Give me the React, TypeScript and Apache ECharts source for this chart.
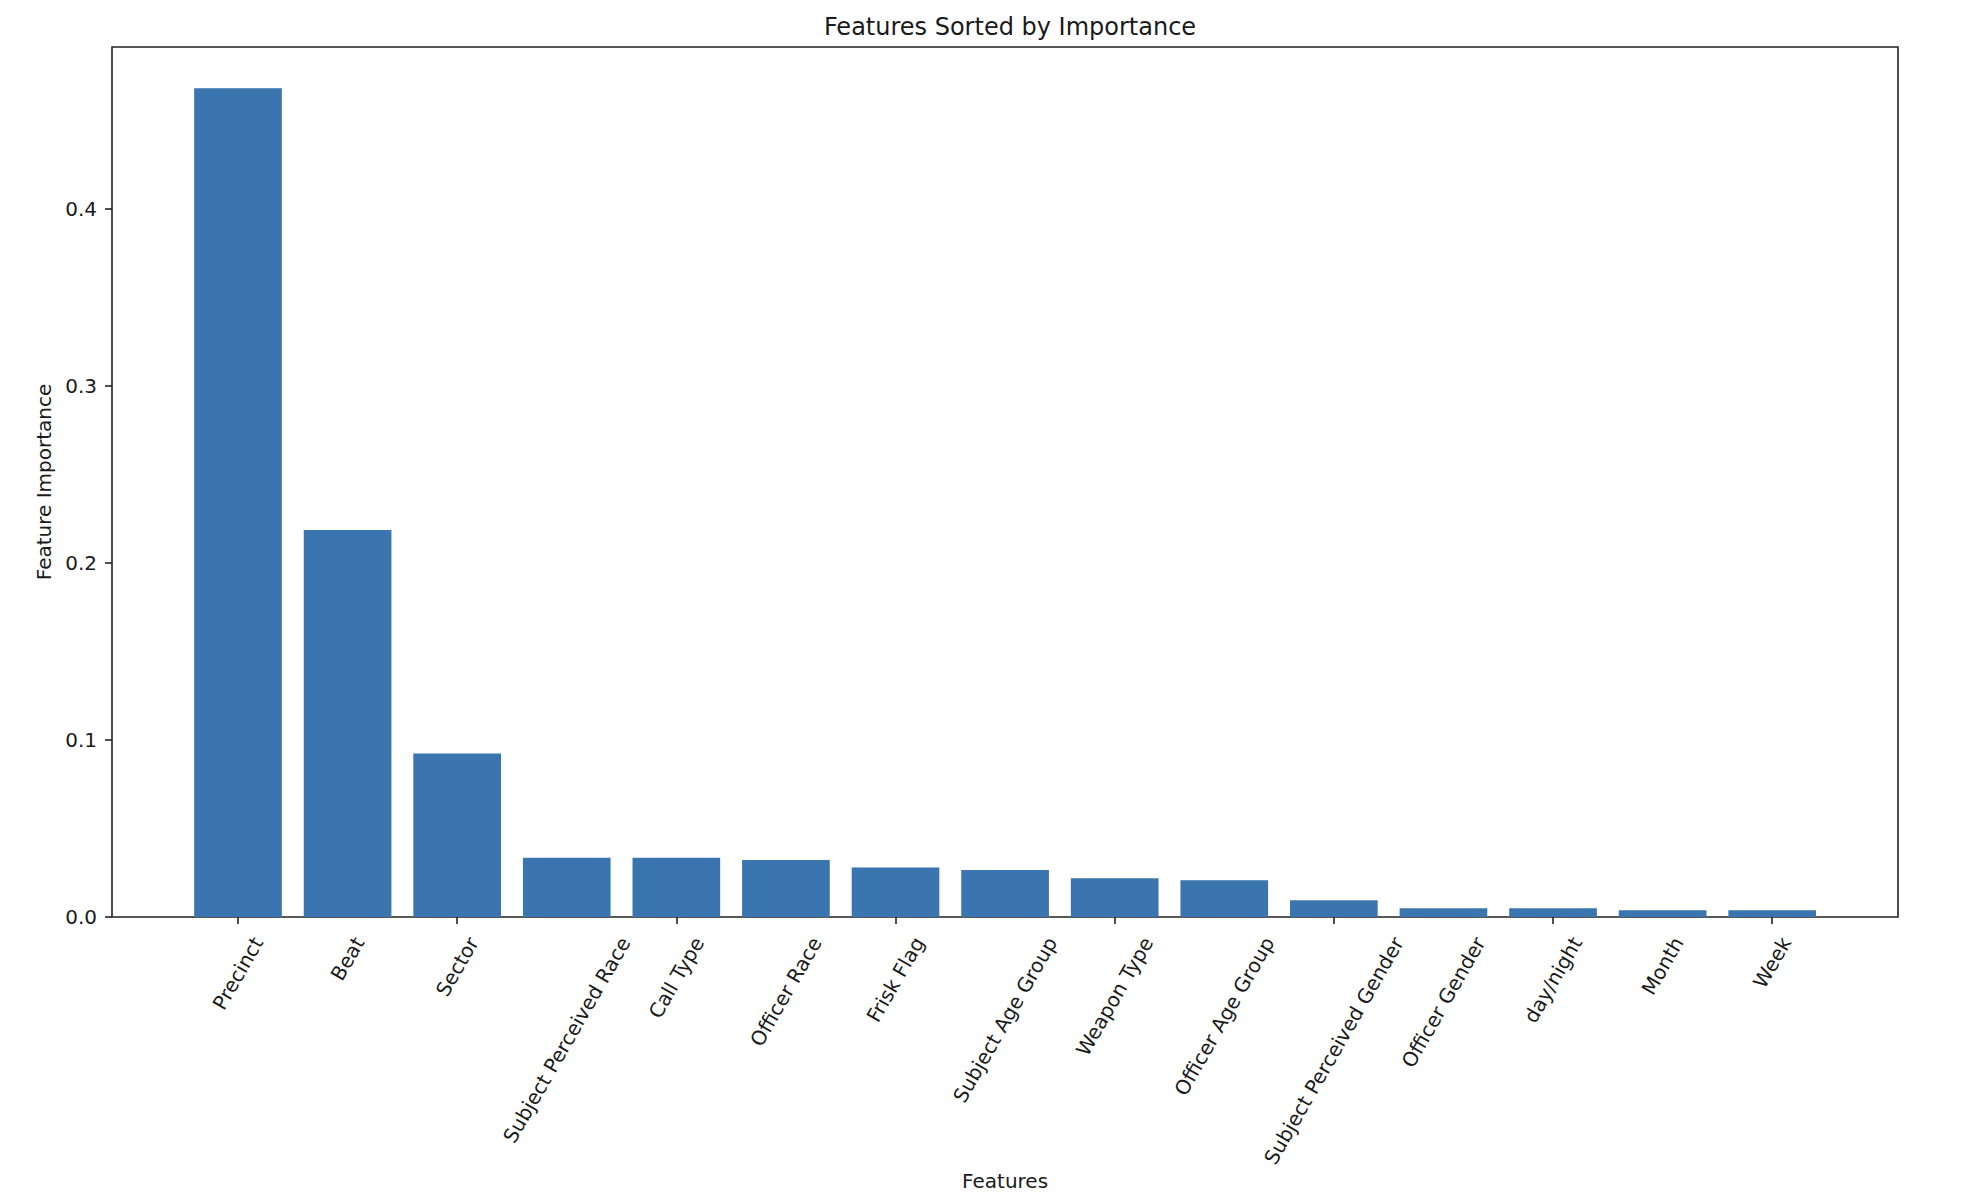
import { useEffect, useRef } from "react";
import * as echarts from "echarts";

// Feature importances, sorted descending
const FEATURES = [
  "Precinct",
  "Beat",
  "Sector",
  "Subject Perceived Race",
  "Call Type",
  "Officer Race",
  "Frisk Flag",
  "Subject Age Group",
  "Weapon Type",
  "Officer Age Group",
  "Subject Perceived Gender",
  "Officer Gender",
  "day/night",
  "Month",
  "Week",
];
const IMPORTANCE = [
  0.4682, 0.2186, 0.0924, 0.0335, 0.0335, 0.0322, 0.0279, 0.0266, 0.0219,
  0.0207, 0.0094, 0.0049, 0.0049, 0.0038, 0.0038,
];
const Y_TICKS = [0, 0.1, 0.2, 0.3, 0.4];
const Y_MAX = 0.4915;

const FONT = "'DejaVu Sans', sans-serif";
const TEXT = "#1a1a1a";
const BAR = "#3b75af";
const LABEL_SIZE = 20;
const LABEL_ANGLE = Math.PI / 3;
const LABEL_PAD = 16;

let measureCtx: CanvasRenderingContext2D | null = null;
function textWidth(s: string) {
  if (!measureCtx) {
    measureCtx = document.createElement("canvas").getContext("2d");
  }
  if (!measureCtx) return s.length * LABEL_SIZE * 0.55;
  measureCtx.font = `${LABEL_SIZE}px 'DejaVu Sans'`;
  return measureCtx.measureText(s).width;
}

export default function App() {
  const chartRef = useRef<HTMLDivElement>(null);

  useEffect(() => {
    document.body.style.margin = "0";
    if (!chartRef.current) return;
    const chart = echarts.init(chartRef.current, undefined, { renderer: "svg" });

    const option: echarts.EChartsOption = {
      animation: false,
      backgroundColor: "#fff",
      title: {
        text: "Features Sorted by Importance",
        left: 1005,
        top: 10,
        textAlign: "center",
        textStyle: { fontFamily: FONT, fontSize: 24, fontWeight: "normal", color: TEXT },
      },
      grid: [
        // bars
        { left: 183.2, right: 147, top: 47, bottom: 285 },
        // axes frame (matplotlib spines)
        {
          left: 112,
          right: 76,
          top: 47,
          bottom: 285,
          show: true,
          borderColor: "#222",
          borderWidth: 1.6,
          backgroundColor: "transparent",
        },
      ],
      xAxis: [
        {
          type: "category",
          gridIndex: 0,
          data: FEATURES,
          axisLine: { show: false },
          axisTick: {
            show: true,
            alignWithLabel: true,
            length: 7,
            lineStyle: { color: "#222", width: 1.6 },
          },
          axisLabel: { show: false },
          name: "Features",
          nameLocation: "middle",
          nameGap: 254,
          nameTextStyle: { fontFamily: FONT, fontSize: 20, color: TEXT },
        },
        { type: "value", gridIndex: 1, show: false, min: 0, max: 1 },
      ],
      yAxis: [
        { type: "value", gridIndex: 0, show: false, min: 0, max: Y_MAX },
        {
          type: "value",
          gridIndex: 1,
          min: 0,
          max: Y_MAX,
          axisLine: { show: false },
          splitLine: { show: false },
          axisTick: {
            show: true,
            length: 7,
            customValues: Y_TICKS,
            lineStyle: { color: "#222", width: 1.6 },
          },
          axisLabel: {
            customValues: Y_TICKS,
            formatter: (v: number) => v.toFixed(1),
            margin: 15,
            fontFamily: FONT,
            fontSize: 20,
            color: TEXT,
          },
          name: "Feature Importance",
          nameLocation: "middle",
          nameGap: 58,
          nameTextStyle: { fontFamily: FONT, fontSize: 20, color: TEXT },
        },
      ],
      series: [
        {
          type: "bar",
          xAxisIndex: 0,
          yAxisIndex: 0,
          data: IMPORTANCE,
          barWidth: "80%",
          itemStyle: { color: BAR },
          silent: true,
        },
        {
          // rotated tick labels, bbox centred under each tick like matplotlib
          type: "custom",
          xAxisIndex: 0,
          yAxisIndex: 0,
          silent: true,
          data: FEATURES.map((_, i) => [i, 0]),
          renderItem: (_params: any, api: any) => {
            const idx = api.value(0);
            const [x, y] = api.coord([idx, 0]);
            const label = FEATURES[idx];
            const w = textWidth(label);
            const h = LABEL_SIZE * 1.16;
            const bh = w * Math.sin(LABEL_ANGLE) + h * Math.cos(LABEL_ANGLE);
            return {
              type: "text",
              x,
              y: y + LABEL_PAD + bh / 2,
              rotation: LABEL_ANGLE,
              style: {
                text: label,
                fontFamily: FONT,
                fontSize: LABEL_SIZE,
                fill: TEXT,
                align: "center",
                verticalAlign: "middle",
              },
            };
          },
        },
      ],
    };

    chart.setOption(option);
    return () => {
      chart.dispose();
    };
  }, []);

  return <div ref={chartRef} style={{ width: "1974px", height: "1202px" }} />;
}
